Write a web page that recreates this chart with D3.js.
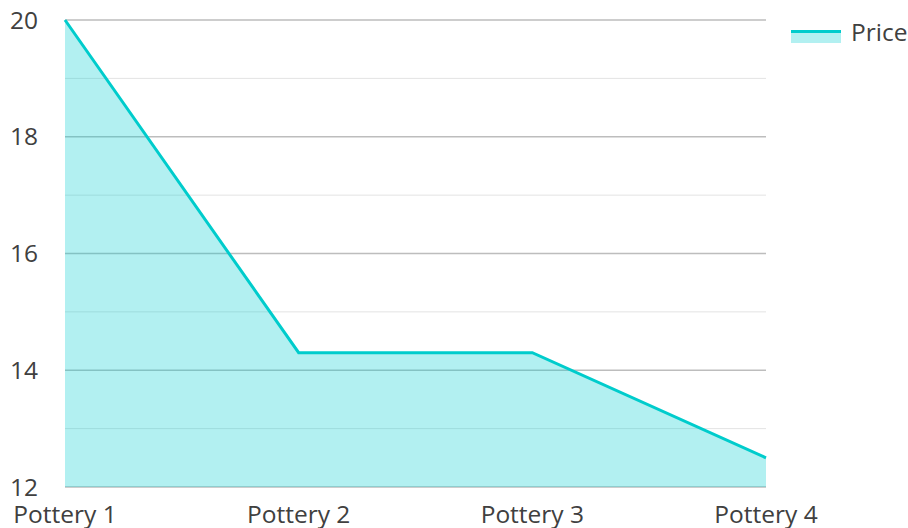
<!DOCTYPE html>
<html>
<head>
<meta charset="utf-8">
<script src="https://cdn.jsdelivr.net/npm/d3@7"></script>
<style>
  body { margin: 0; background: #fff; }
  text { font-family: "Open Sans", sans-serif; font-size: 24.5px; fill: #404040; }
</style>
</head>
<body>
<svg id="chart" width="908" height="528"></svg>
<script>
var categories = ["Pottery 1", "Pottery 2", "Pottery 3", "Pottery 4"];
var prices = [20, 14.3, 14.3, 12.5];
var majorTicks = [12, 14, 16, 18, 20];
var minorTicks = [13, 15, 17, 19];
var seriesName = "Price";

var plotLeft = 65, plotRight = 766, plotTop = 20, plotBottom = 487;

var svg = d3.select("#chart");

var x = d3.scalePoint()
    .domain(categories)
    .range([plotLeft, plotRight]);

var y = d3.scaleLinear()
    .domain([12, 20])
    .range([plotBottom, plotTop]);

var data = categories.map(function(c, i) { return {name: c, value: prices[i]}; });

// grid
svg.append("g").selectAll("line")
    .data(minorTicks)
  .enter().append("line")
    .attr("x1", plotLeft).attr("x2", plotRight)
    .attr("y1", function(d) { return y(d); })
    .attr("y2", function(d) { return y(d); })
    .attr("stroke", "#e3e3e3")
    .attr("stroke-width", 1);

svg.append("g").selectAll("line")
    .data(majorTicks)
  .enter().append("line")
    .attr("x1", plotLeft).attr("x2", plotRight)
    .attr("y1", function(d) { return y(d); })
    .attr("y2", function(d) { return y(d); })
    .attr("stroke", "#bdbdbd")
    .attr("stroke-width", 1.5);

var area = d3.area()
    .x(function(d) { return x(d.name); })
    .y0(plotBottom)
    .y1(function(d) { return y(d.value); });

var line = d3.line()
    .x(function(d) { return x(d.name); })
    .y(function(d) { return y(d.value); });

svg.append("path")
    .datum(data)
    .attr("d", area)
    .attr("fill", "rgba(0, 206, 209, 0.3)");

svg.append("path")
    .datum(data)
    .attr("d", line)
    .attr("fill", "none")
    .attr("stroke", "#00cccc")
    .attr("stroke-width", 3);

// y labels
svg.append("g").selectAll("text")
    .data(majorTicks)
  .enter().append("text")
    .attr("x", 10)
    .attr("y", function(d) { return y(d); })
    .attr("dy", "0.35em")
    .text(function(d) { return d; });

// x labels
svg.append("g").selectAll("text")
    .data(categories)
  .enter().append("text")
    .attr("x", function(d) { return x(d); })
    .attr("y", 523)
    .attr("text-anchor", "middle")
    .text(function(d) { return d; });

// legend
var legend = svg.append("g").attr("transform", "translate(791,30)");
legend.append("rect")
    .attr("width", 50).attr("height", 13)
    .attr("fill", "rgba(0, 206, 209, 0.3)");
legend.append("rect")
    .attr("width", 50).attr("height", 3)
    .attr("fill", "#00cccc");
legend.append("text")
    .attr("x", 60)
    .attr("y", 2)
    .attr("dy", "0.35em")
    .text(seriesName);
</script>
</body>
</html>
